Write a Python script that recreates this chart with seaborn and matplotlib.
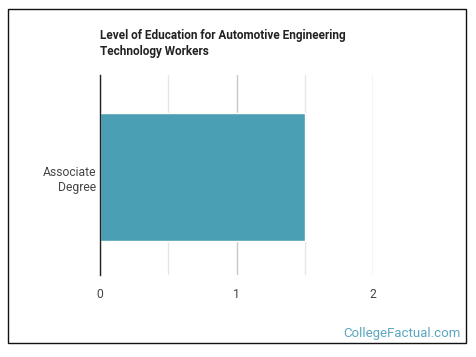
import matplotlib
matplotlib.use("Agg")
import matplotlib.pyplot as plt
import seaborn as sns
import pandas as pd
from matplotlib.patches import Rectangle
from matplotlib.ticker import MultipleLocator

categories = ["Associate\nDegree"]
values = [1.5]
xticks = [0, 1, 2]

sns.set_theme(style="white")
plt.rcParams['font.family'] = ['Roboto', 'DejaVu Sans']

fig = plt.figure(figsize=(4.76, 3.57), dpi=100)
ax = fig.add_axes([100/476, 1-275/357, 273/476, 200/357])

df = pd.DataFrame({"cat": categories, "val": values})
sns.barplot(data=df, x="val", y="cat", orient="h", color="#4a9fb5", width=0.64,
            saturation=1, ax=ax)

ax.set_xlim(0, 2)
ax.set_ylim(0.49, -0.51)
ax.set_xticks(xticks)
ax.xaxis.set_minor_locator(MultipleLocator(0.5))
ax.grid(axis="x", which="major", color="#c8c8c8", linewidth=1)
ax.grid(axis="x", which="minor", color="#e6e6e6", linewidth=1)
ax.set_axisbelow(True)
for s in ["top", "right", "bottom"]:
    ax.spines[s].set_visible(False)
ax.spines["left"].set_color("#222222")
ax.spines["left"].set_linewidth(1)
ax.set_xlabel("")
ax.set_ylabel("")
ax.tick_params(axis="both", which="both", length=0, labelsize=8.7, labelcolor="#444444")
ax.tick_params(axis="x", pad=9)
ax.tick_params(axis="y", pad=3)
for lbl in ax.get_yticklabels():
    lbl.set_horizontalalignment("right")
    lbl.set_multialignment("right")

fig.text(100/476, 1-43.5/357, "Level of Education for Automotive Engineering\nTechnology Workers",
         fontsize=8.5, fontweight="bold", color="#222222", ha="left", va="center",
         linespacing=1.35)

fig.text(461/476, 1-334/357, "CollegeFactual.com", fontsize=9.5, color="#5aa6c0",
         ha="right", va="center")

fig.patches.append(Rectangle((8/476, 1-343/357), 458/476, 334/357, transform=fig.transFigure,
                             fill=False, edgecolor="#111111", linewidth=1.0))

fig.savefig("out.png", dpi=100)
